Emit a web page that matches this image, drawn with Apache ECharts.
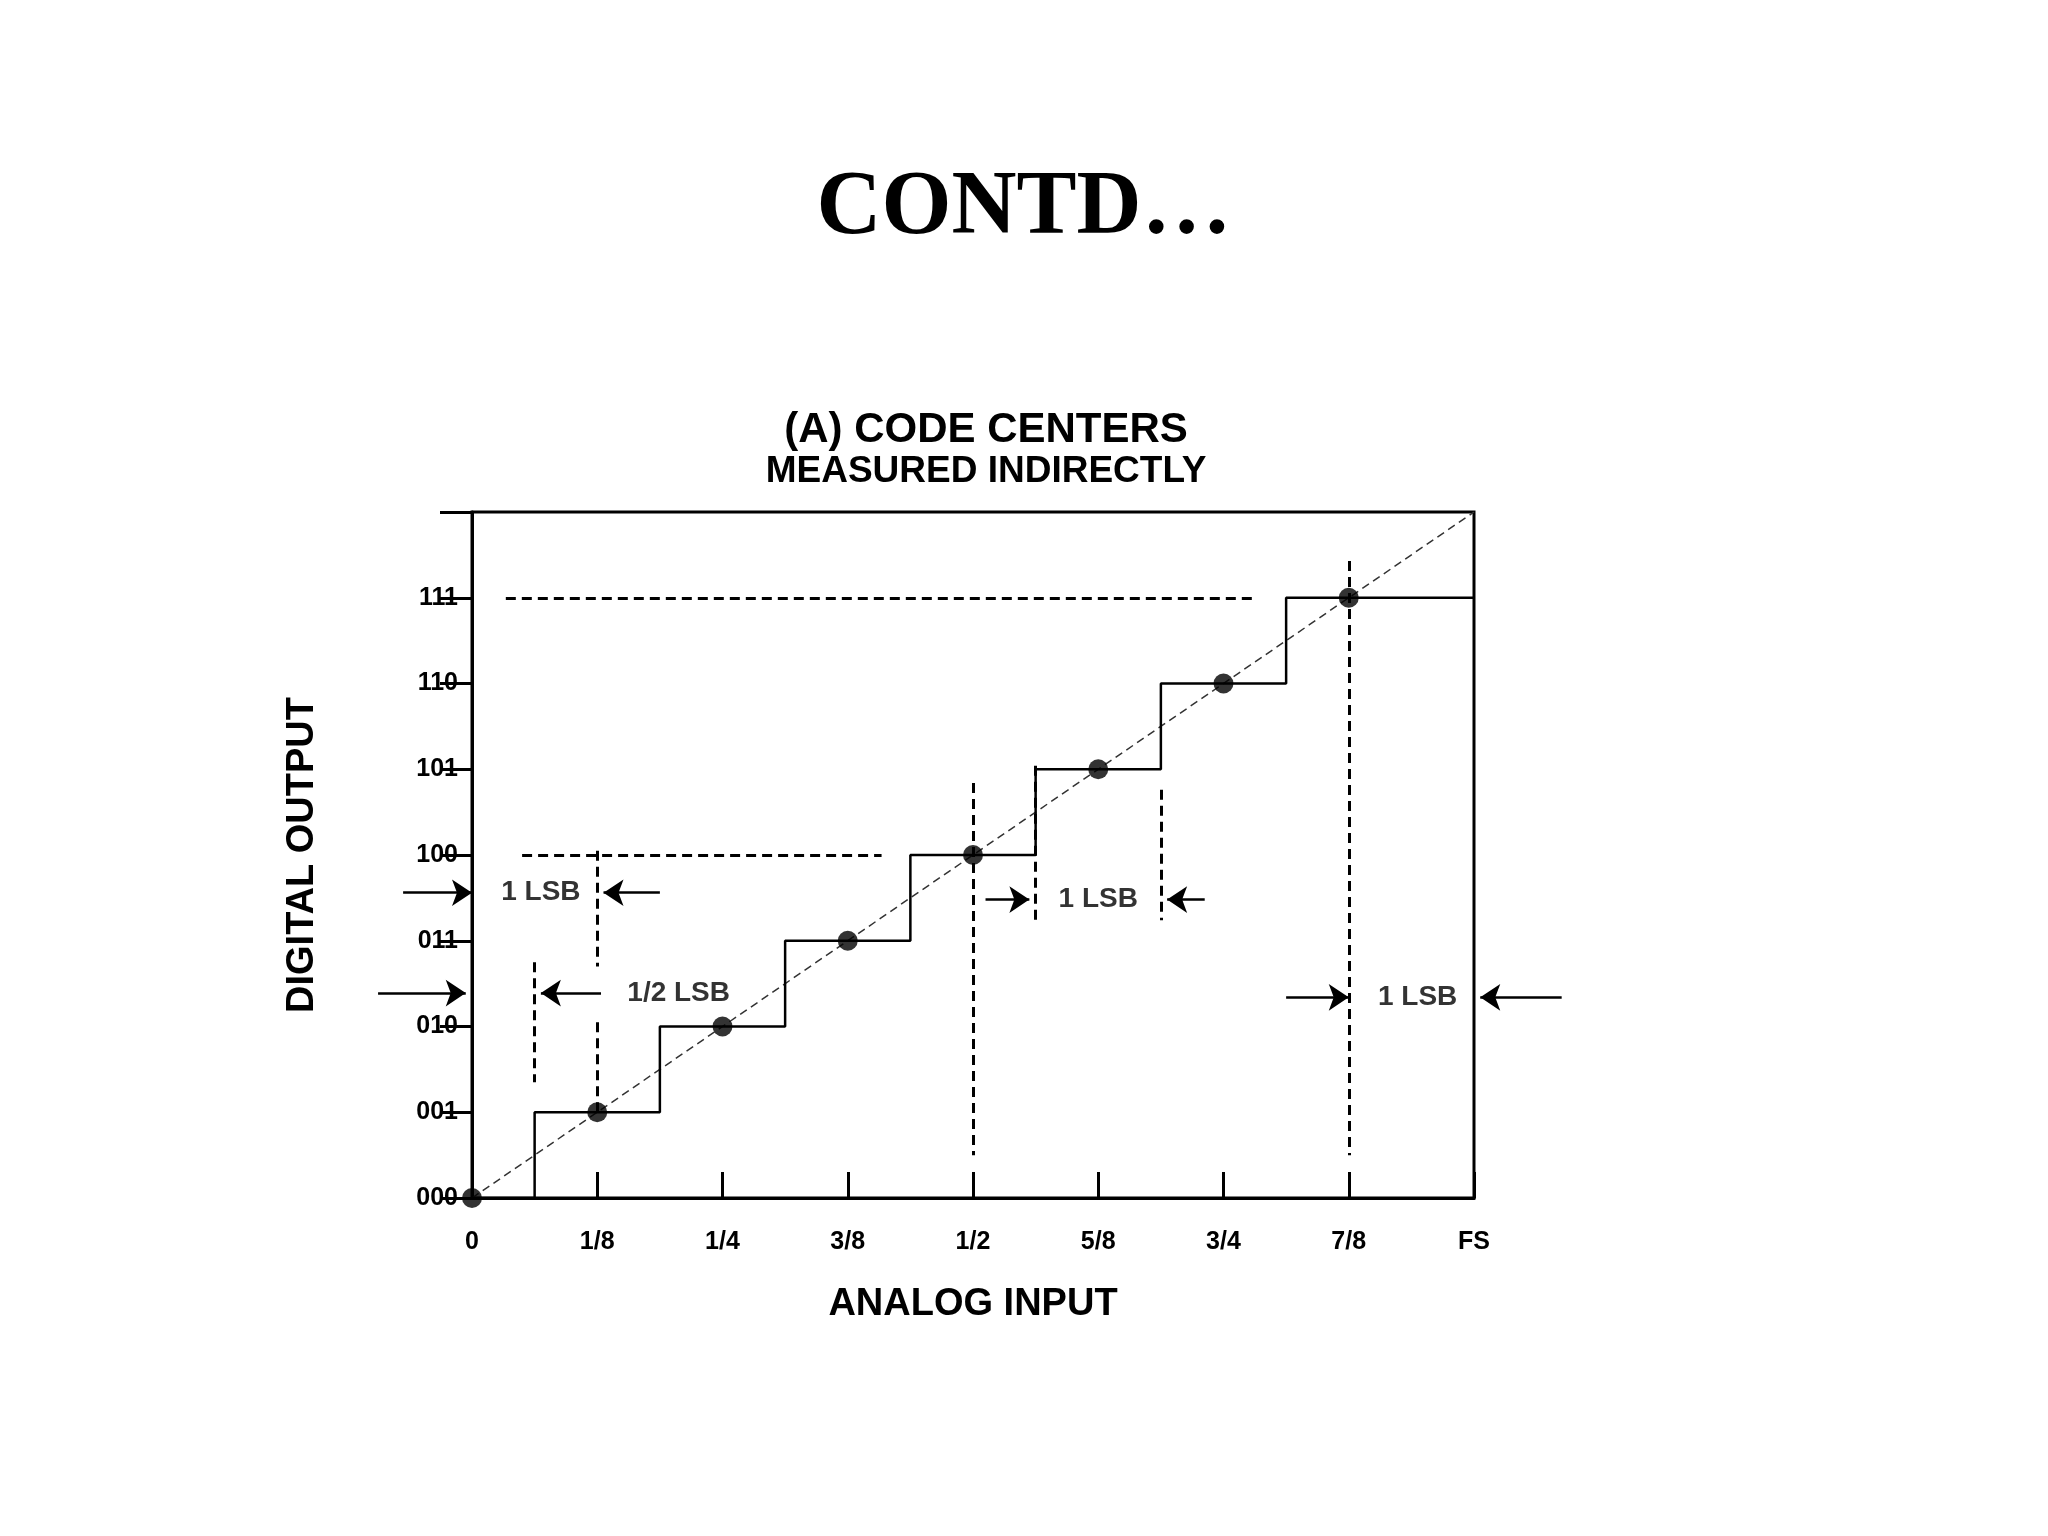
<!DOCTYPE html>
<html>
<head>
<meta charset="utf-8">
<script src="https://cdn.jsdelivr.net/npm/echarts@6/dist/echarts.min.js"></script>
<style>html,body{margin:0;background:#fff}#c{width:2048px;height:1536px}</style>
</head>
<body>
<div id="c"></div>
<script>
// x in eighths of full scale, y in output codes
var xLabels = ['0', '1/8', '1/4', '3/8', '1/2', '5/8', '3/4', '7/8', 'FS'];
var yLabels = ['000', '001', '010', '011', '100', '101', '110', '111'];
var codeCenters = [[0, 0], [1, 1], [2, 2], [3, 3], [4, 4], [5, 5], [6, 6], [7, 7]];
var stairs = [[0, 0], [0.5, 0], [0.5, 1], [1.5, 1], [1.5, 2], [2.5, 2], [2.5, 3], [3.5, 3],
    [3.5, 4], [4.5, 4], [4.5, 5], [5.5, 5], [5.5, 6], [6.5, 6], [6.5, 7], [8, 7]];
var ideal = [[0, 0], [8, 8]];
var dashSegs = [
    [[0.27, 7], [6.24, 7]],
    [[0.4, 4], [3.27, 4]],
    [[1, 4.05], [1, 2.7]],
    [[1, 2.05], [1, 1.0]],
    [[0.5, 2.75], [0.5, 1.35]],
    [[4, 4.84], [4, 0.5]],
    [[4.5, 5.04], [4.5, 3.24]],
    [[5.5, 4.76], [5.5, 3.24]],
    [[7, 7.43], [7, 0.5]]
];
var arrows = [
    [[-0.55, 3.56], [0, 3.56]], [[1.5, 3.56], [1.05, 3.56]],
    [[-0.75, 2.39], [-0.05, 2.39]], [[1.03, 2.39], [0.55, 2.39]],
    [[4.1, 3.48], [4.45, 3.48]], [[5.85, 3.48], [5.55, 3.48]],
    [[6.5, 2.34], [7.0, 2.34]], [[8.7, 2.34], [8.05, 2.34]]
];
var lsbLabels = [
    {name: '1 LSB', value: [0.55, 3.56]},
    {name: '1/2 LSB', value: [1.65, 2.39]},
    {name: '1 LSB', value: [5.0, 3.48]},
    {name: '1 LSB', value: [7.55, 2.34]}
];

var font = 'Liberation Sans, Arial, sans-serif';
var chart = echarts.init(document.getElementById('c'));
chart.setOption({
    animation: false,
    backgroundColor: '#fff',
    title: [
        {text: 'CONTD…', left: 'center', top: 160, textStyle: {fontFamily: 'Liberation Serif, Times New Roman, serif', fontWeight: 'bold', fontSize: 90, color: '#000'}},
        {text: '(A) CODE CENTERS', left: 981, top: 404, textAlign: 'center', textStyle: {fontFamily: font, fontWeight: 'bold', fontSize: 42, color: '#000'}},
        {text: 'MEASURED INDIRECTLY', left: 981, top: 448, textAlign: 'center', textStyle: {fontFamily: font, fontWeight: 'bold', fontSize: 37, color: '#000'}}
    ],
    grid: {left: 472, right: 574, top: 512, bottom: 338, show: true, borderColor: '#000', borderWidth: 3},
    xAxis: {
        type: 'value', min: 0, max: 8, interval: 1,
        name: 'ANALOG INPUT', nameLocation: 'middle', nameGap: 88,
        nameTextStyle: {fontFamily: font, fontWeight: 'bold', fontSize: 38, color: '#000'},
        axisLine: {lineStyle: {color: '#000', width: 3}},
        axisTick: {length: 26, inside: true, lineStyle: {color: '#000', width: 3}},
        splitLine: {show: false},
        axisLabel: {fontFamily: font, fontWeight: 'bold', fontSize: 25, color: '#000', margin: 32,
            formatter: function (v) { return xLabels[v]; }}
    },
    yAxis: {
        type: 'value', min: 0, max: 8, interval: 1,
        name: 'DIGITAL OUTPUT', nameLocation: 'middle', nameGap: 150, nameRotate: 90,
        nameTextStyle: {fontFamily: font, fontWeight: 'bold', fontSize: 38, color: '#000'},
        axisLine: {lineStyle: {color: '#000', width: 3}},
        axisTick: {length: 32, lineStyle: {color: '#000', width: 3}},
        splitLine: {show: false},
        axisLabel: {fontFamily: font, fontWeight: 'bold', fontSize: 25, color: '#000', margin: 14,
            formatter: function (v) { return yLabels[v] || ''; }}
    },
    series: [
        {type: 'line', data: ideal, symbol: 'none', lineStyle: {color: '#333', width: 1.5, type: [8, 5]}},
        {type: 'line', data: stairs, symbol: 'none', lineStyle: {color: '#000', width: 2.5}},
        {type: 'lines', coordinateSystem: 'cartesian2d', polyline: false,
            data: dashSegs.map(function (s) { return {coords: s}; }),
            lineStyle: {color: '#000', width: 3, type: [10, 6], opacity: 1}},
        {type: 'lines', coordinateSystem: 'cartesian2d', clip: false,
            symbol: ['none', 'arrow'], symbolSize: 20,
            data: arrows.map(function (s) { return {coords: s}; }),
            lineStyle: {color: '#000', width: 2.5, opacity: 1}},
        {type: 'scatter', data: codeCenters, symbolSize: 20, itemStyle: {color: '#000'}, z: 5},
        {type: 'scatter', data: lsbLabels, symbolSize: 0, clip: false,
            label: {show: true, position: 'inside', formatter: '{b}', fontFamily: font, fontWeight: 'bold', fontSize: 28, color: '#000'}}
    ]
});
</script>
</body>
</html>
